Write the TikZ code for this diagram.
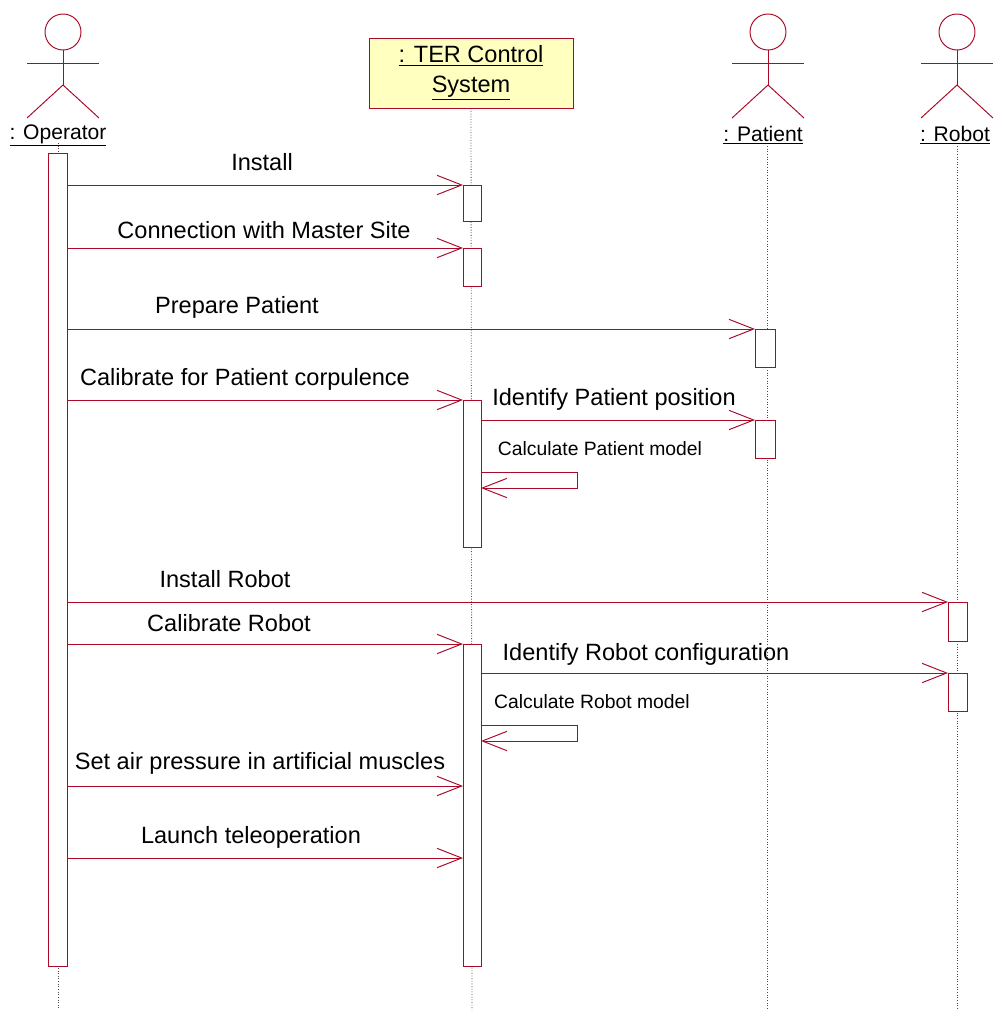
\documentclass[tikz,border=0pt]{standalone}
\usepackage{fontspec}
\setmainfont{Liberation Sans}
\usetikzlibrary{arrows.meta}
\definecolor{uml}{RGB}{170,10,40}
\definecolor{boxfill}{RGB}{255,255,192}
\tikzset{
  x=0.02cm, y=-0.02cm,
  life/.style={densely dotted, black!70, line width=0.5pt},
  act/.style={draw=uml, fill=white, line width=0.55pt},
  msg/.style={draw=uml, line width=0.55pt, -{Straight Barb[length=14pt,width=11pt]}},
  lbl/.style={font=\fontsize{13.4}{15}\selectfont, anchor=base},
  slbl/.style={font=\fontsize{11}{13}\selectfont, anchor=base},
  actor/.style={draw=uml, line width=0.55pt},
}
\newcommand{\umlactor}[1]{%
  \draw[actor] (#1,32) circle[radius=0.36cm];
  \draw[actor] (#1,50) -- (#1,85);
  \draw[actor] (#1-36,63) -- (#1+36,63);
  \draw[actor] (#1-36,118) -- (#1,85) -- (#1+36,118);
}
\begin{document}
\begin{tikzpicture}
\useasboundingbox (0,0) rectangle (994,1031);
% actors
\umlactor{63}
\umlactor{768}
\umlactor{957}
\node[slbl, font=\fontsize{12}{14}\selectfont] (lop) at (58,139) {\underline{: Operator}};
\node[slbl, font=\fontsize{12}{14}\selectfont] (lpa) at (763,141) {\underline{: Patient}};
\node[slbl, font=\fontsize{12}{14}\selectfont] (lro) at (955,141) {\underline{: Robot}};
\node[draw=uml, fill=boxfill, line width=0.55pt, minimum width=4.08cm, minimum height=1.4cm,
  align=center, font=\fontsize{13.4}{17}\selectfont] (ter) at (471,73)
  {\underline{: TER Control}\\\underline{System}};
% lifelines
\coordinate (op0) at (58,143); \coordinate (op1) at (58,1010);
\coordinate (te1) at (472,1010);
\coordinate (pa0) at (767,146); \coordinate (pa1) at (767,1010);
\coordinate (ro0) at (957,146); \coordinate (ro1) at (957,1010);
\draw[life] (op0) -- (op1);
\draw[life] (ter.south) -- (te1);
\draw[life] (pa0) -- (pa1);
\draw[life] (ro0) -- (ro1);
% activations
\draw[act] (48,153) rectangle (67,966);
\draw[act] (463,185) rectangle (481,221);
\draw[act] (463,248) rectangle (481,286);
\draw[act] (463,400) rectangle (481,547);
\draw[act] (463,644) rectangle (481,966);
\draw[act] (755,329) rectangle (775,367);
\draw[act] (755,420) rectangle (775,458);
\draw[act] (948,602) rectangle (967,641);
\draw[act] (948,673) rectangle (967,711);
% messages
\draw[msg] (67,185) -- (463,185); \node[lbl] at (262,170) {Install};
\draw[msg] (67,248) -- (463,248); \node[lbl] at (264,238) {Connection with Master Site};
\draw[msg] (67,329) -- (755,329); \node[lbl] at (237,313) {Prepare Patient};
\draw[msg] (67,400) -- (463,400); \node[lbl] at (245,385) {Calibrate for Patient corpulence};
\draw[msg] (481,420) -- (755,420); \node[lbl] at (614,405) {Identify Patient position};
\draw[msg] (481,472) -- (577,472) -- (577,488) -- (481,488); \node[slbl] at (600,455) {Calculate Patient model};
\draw[msg] (67,602) -- (948,602); \node[lbl] at (225,587) {Install Robot};
\draw[msg] (67,644) -- (463,644); \node[lbl] at (229,631) {Calibrate Robot};
\draw[msg] (481,673) -- (948,673); \node[lbl] at (646,660) {Identify Robot configuration};
\draw[msg] (481,725) -- (577,725) -- (577,741) -- (481,741); \node[slbl] at (592,708) {Calculate Robot model};
\draw[msg] (67,786) -- (463,786); \node[lbl] at (260,769) {Set air pressure in artificial muscles};
\draw[msg] (67,858) -- (463,858); \node[lbl] at (251,843) {Launch teleoperation};
\end{tikzpicture}
\end{document}
